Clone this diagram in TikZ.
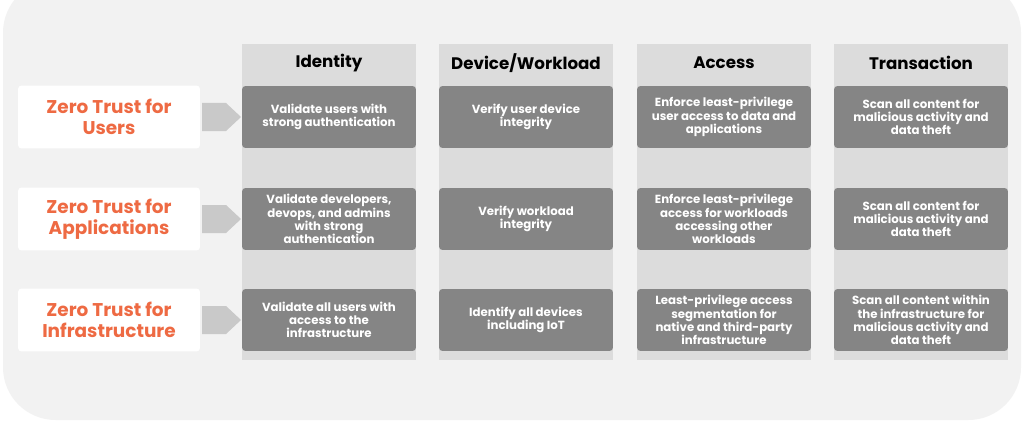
\documentclass[tikz,border=0pt]{standalone}
\usepackage{fontspec}
\setmainfont{Poppins}
\usetikzlibrary{positioning}
\definecolor{BgGray}{HTML}{F2F2F2}
\definecolor{BandGray}{HTML}{DCDCDC}
\definecolor{CellGray}{HTML}{858585}
\definecolor{ZtOrange}{HTML}{EE6A43}
\tikzstyle{cell} = [rectangle, rounded corners=2pt, fill=CellGray, text=white, minimum width=3.48cm, minimum height=1.24cm, align=center, font=\fontsize{6.7}{7.5}\selectfont\bfseries, inner sep=1pt]
\tikzstyle{rowlabel} = [rectangle, rounded corners=2pt, fill=white, text=ZtOrange, minimum width=3.64cm, minimum height=1.26cm, align=center, font=\fontsize{10.5}{12}\selectfont\bfseries]
\tikzstyle{head} = [font=\fontsize{9.5}{11}\selectfont\bfseries, text=black]
\tikzset{x=0.02cm, y=-0.02cm}
\begin{document}
\begin{tikzpicture}
\useasboundingbox (0,0) rectangle (1024,429);
\fill[white] (0,0) rectangle (1024,429);
\fill[BgGray, rounded corners=30pt] (3,-20) rectangle (1021,420);
% column bands
\foreach \x in {242,439,637,834}
  \fill[BandGray] (\x,44) rectangle ++(174,316);
\node[head] (h1) at (329,63) {Identity};
\node[head] (h2) at (526,63) {Device/Workload};
\node[head] (h3) at (724,63) {Access};
\node[head] (h4) at (921,63) {Transaction};
% rows
\node[rowlabel] (r1) at (109,117) {Zero Trust for\\Users};
\node[rowlabel] (r2) at (109,219) {Zero Trust for\\Applications};
\node[rowlabel] (r3) at (109,320) {Zero Trust for\\Infrastructure};
\foreach \y in {117,219,320}
  \fill[BandGray!80!gray] (202,\y-14) -- (226,\y-14) -- (241,\y) -- (226,\y+14) -- (202,\y+14) -- cycle;
\node[cell] (c11) at (329,117) {Validate users with\\strong authentication};
\node[cell] (c12) at (526,117) {Verify user device\\integrity};
\node[cell] (c13) at (724,117) {Enforce least-privilege\\user access to data and\\applications};
\node[cell] (c14) at (921,117) {Scan all content for\\malicious activity and\\data theft};
\node[cell] (c21) at (329,219) {Validate developers,\\devops, and admins\\with strong\\authentication};
\node[cell] (c22) at (526,219) {Verify workload\\integrity};
\node[cell] (c23) at (724,219) {Enforce least-privilege\\access for workloads\\accessing other\\workloads};
\node[cell] (c24) at (921,219) {Scan all content for\\malicious activity and\\data theft};
\node[cell] (c31) at (329,320) {Validate all users with\\access to the\\infrastructure};
\node[cell] (c32) at (526,320) {Identify all devices\\including IoT};
\node[cell] (c33) at (724,320) {Least-privilege access\\segmentation for\\native and third-party\\infrastructure};
\node[cell] (c34) at (921,320) {Scan all content within\\the infrastructure for\\malicious activity and\\data theft};
\end{tikzpicture}
\end{document}
